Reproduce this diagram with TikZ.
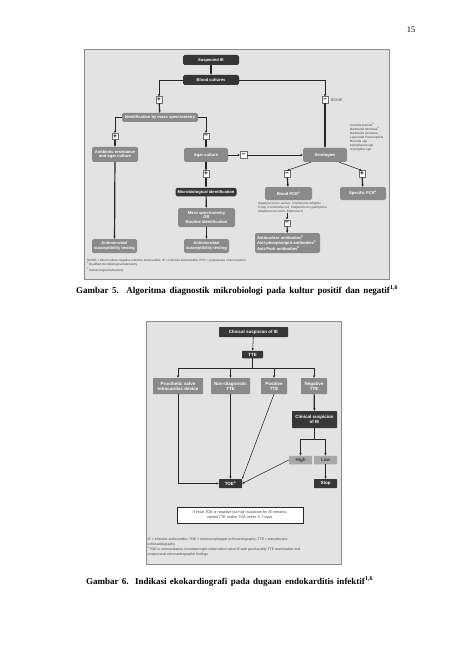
\documentclass[tikz,border=0pt]{standalone}
\usepackage{fontspec}
\setmainfont{Liberation Serif}
\setsansfont{Liberation Sans}
\usetikzlibrary{arrows.meta,calc}
\definecolor{panel}{HTML}{E3E3E3}
\definecolor{panelline}{HTML}{8A8A8A}
\definecolor{boxdark}{HTML}{363636}
\definecolor{boxgray}{HTML}{8A8A8A}
\definecolor{boxlight}{HTML}{A8A8A8}
\definecolor{linec}{HTML}{262626}
\definecolor{signline}{HTML}{6E6E6E}
\definecolor{smalltext}{HTML}{404040}
\newcommand{\bfont}{\sffamily\bfseries\fontsize{4.1}{4.7}\selectfont}
\newcommand{\cfont}{\sffamily\bfseries\fontsize{4.5}{5.2}\selectfont}
\newcommand{\tfont}{\sffamily\fontsize{3.1}{3.9}\selectfont}
\newcommand{\nfont}{\sffamily\fontsize{3.7}{4.7}\selectfont}
\begin{document}
\begin{tikzpicture}[x=1pt,y=-1pt,
  wh/.style 2 args={minimum width=#1pt, minimum height=#2pt},
  box/.style={rounded corners=1.6pt, inner sep=0pt, align=center, font=\bfont},
  dk/.style={box, fill=boxdark, text=white},
  gy/.style={box, fill=boxgray, text=white},
  sbox/.style={inner sep=0pt, align=center, font=\cfont, rounded corners=0.6pt},
  sdk/.style={sbox, fill=boxdark, text=white},
  sgy/.style={sbox, fill=boxgray, text=white},
  slt/.style={sbox, fill=boxlight, text=boxdark},
  sgn/.style={draw=signline, fill=white, line width=0.5pt, minimum size=6.5pt, inner sep=0pt, font=\sffamily\bfseries\fontsize{6.5}{6.5}\selectfont, text=black},
  ar/.style={draw=linec, line width=0.55pt, -{Stealth[length=2.5pt,width=2.2pt]}},
  thk/.style={ar, line width=1.2pt},
  ln/.style={draw=linec, line width=0.55pt},
  small/.style={font=\tfont, text=smalltext, inner sep=0pt, align=left},
  caption/.style={font=\rmfamily\bfseries\fontsize{9}{11}\selectfont, inner sep=0pt}
]
\useasboundingbox (0,0) rectangle (474,671);
\fill[white] (0,0) rectangle (474,671);

\node[font=\rmfamily\fontsize{8.5}{10}\selectfont, inner sep=0pt] (pagenum) at (411,30) {15};

% ---------------- Figure 1 ----------------
\filldraw[fill=panel, draw=panelline, line width=0.7pt] (84,49) rectangle (389,279);

\node[dk, wh={56}{10}] (sus) at (211,60) {Suspected IE};
\node[dk, wh={56}{10}] (bc) at (211,80) {Blood cultures};
\node[sgn] (p1) at (159,100) {+};
\node[sgn] (m1) at (325,100) {−};
\node[small, anchor=west, font=\sffamily\fontsize{3.6}{4}\selectfont] (bcnie) at (331,100) {BCNIE};
\node[gy, wh={76}{9}] (ims) at (160,117.5) {Identification by mass spectrometry};
\node[sgn] (p2) at (115,136.5) {+};
\node[sgn] (m2) at (206,136.5) {−};
\node[gy, wh={46}{15}] (abr) at (115,154.5) {Antibiotic resistance\\and agar culture};
\node[gy, wh={44}{14}] (agar) at (206,155) {Agar culture};
\node[sgn] (m3) at (243.5,155) {−};
\node[gy, wh={44}{14}] (ser) at (325,155) {Serologies};
\node[small, anchor=north west] (serlist) at (350,123.5) {\textit{Coxiella burnetii}\textsuperscript{a}\\\textit{Bartonella henselae}\textsuperscript{a}\\\textit{Bartonella Quintana}\\\textit{Legionella Pneumophila}\\\textit{Brucella} spp\\\textit{Mycoplasma} spp\\\textit{Aspergillus} spp};
\node[sgn] (p3) at (206,174) {+};
\node[dk, wh={61}{8.5}] (mic) at (206,192) {Microbiological identification};
\node[sgn] (m4) at (287,174) {−};
\node[sgn] (p4) at (362,174) {+};
\node[gy, wh={47}{13}] (bpcr) at (288.5,193.5) {Blood PCR\textsuperscript{a}};
\node[gy, wh={46}{13}] (spcr) at (363,193.5) {Specific PCR\textsuperscript{a}};
\node[small, anchor=north west] (bact) at (258,202) {\textit{Staphylococcus aureus, Tropheryma whipplei,}\\Fungi, \textit{Escherichia coli, Streptococcus gallolyticus,}\\\textit{Streptococcus mitis}, Enterococci};
\node[sgn] (m5) at (287,223) {−};
\node[gy, wh={57}{19}] (ms) at (206.5,217.5) {Mass spectrometry\\OR\\Routine identification};
\node[gy, wh={45}{14}] (ast1) at (114.5,246) {Antimicrobial\\susceptibility testing};
\node[gy, wh={45}{14}] (ast2) at (206.5,246) {Antimicrobial\\susceptibility testing};
\node[gy, wh={65}{20}, align=left, text width=61pt] (ab) at (287.5,243) {Antinuclear antibodies\textsuperscript{b}\\Anti-phospholipid antibodies\textsuperscript{b}\\Anti-Pork antibodies\textsuperscript{b}};
\node[small, anchor=north west, text=smalltext] (fn1) at (87,259.5) {BCNIE = blood culture-negative infective endocarditis; IE = infective endocarditis; PCR = polymerase chain reaction.\\\textsuperscript{a}Qualified microbiological laboratory\\\textsuperscript{b}Immunological laboratory};

\draw[thk] (sus) -- (bc);
\draw[ar] (bc.west) -| (p1.north);
\draw[ar] (bc.east) -| (m1.north);
\draw[thk] (p1) -- (ims);
\draw[ar] (ims.west) -| (p2.north);
\draw[ar] (ims.east) -| (m2.north);
\draw[thk] (p2) -- (abr);
\draw[thk] (m2) -- (agar);
\draw[ar] (agar) -- (m3);
\draw[ar] (m3) -- (ser);
\draw[thk] (m1) -- (ser);
\draw[ar] (ser.south west) ++(8,0) coordinate (sera) -- (m4.north);
\draw[ar] (ser.south east) ++(-8,0) coordinate (serb) -- (p4.north);
\draw[thk] (m4) -- (bpcr);
\draw[thk] (p4) -- (spcr);
\draw[thk] (agar) -- (p3);
\draw[thk] (p3) -- (mic);
\draw[thk] (mic) -- (ms);
\draw[thk] (ms) -- (ast2);
\draw[thk] (abr) -- (ast1);
\draw[ar] (bact.south -| m5) -- (m5);
\draw[thk] (m5) -- (ab);

\node[caption, anchor=base] (cap1) at (237,293.5) {\makebox[322pt][s]{Gambar 5. Algoritma diagnostik mikrobiologi pada kultur positif dan negatif\textsuperscript{1,6}}};

% ---------------- Figure 2 ----------------
\filldraw[fill=panel, draw=panelline, line width=0.7pt] (146,321) rectangle (341,564);

\node[sdk, wh={69}{10}] (cs1) at (253.5,332) {Clinical suspicion of IE};
\node[sdk, wh={21}{7.5}] (tte) at (252.5,354.5) {TTE};
\coordinate (bus) at (252.5,368);
\node[sgy, wh={50}{16}] (pv) at (178,386) {Prosthetic valve\\Intracardiac device};
\node[sgy, wh={39}{16}] (nd) at (230.5,386) {Non-diagnostic\\TTE};
\node[sgy, wh={26}{16}] (pos) at (274,386) {Positive\\TTE};
\node[sgy, wh={26}{16}] (neg) at (314,386) {Negative\\TTE};
\node[sdk, wh={45}{17}] (cs2) at (314.5,419.5) {Clinical suspicion\\of IE};
\coordinate (bus2) at (314.5,439);
\node[slt, wh={23}{8.5}] (high) at (300.5,460) {High};
\node[slt, wh={23}{8.5}] (low) at (325.5,460) {Low};
\node[sdk, wh={23}{9}] (stop) at (325.5,483.5) {Stop};
\node[sdk, wh={23}{9}] (toe) at (230.5,483.5) {TOE\textsuperscript{a}};
\node[draw=linec, fill=white, line width=0.45pt, wh={126}{16}, inner sep=0pt, align=center, font=\nfont, text=smalltext] (note) at (240,515) {If initial TOE is negative but high suspicion for IE remains,\\repeat TTE and/or TOE within 5–7 days};
\node[small, anchor=north west, font=\sffamily\fontsize{3.45}{4.9}\selectfont] (fn2) at (147.5,538) {IE = infective endocarditis; TOE = transoesophageal echocardiography; TTE = transthoracic\\echocardiography.\\\textsuperscript{a}TOE is not mandatory in isolated right-sided native valve IE with good quality TTE examination and\\unequivocal echocardiographic findings.};

\draw[ar] (cs1) -- (tte);
\draw[ln] (tte) -- (bus);
\draw[ar] (bus) -| (pv.north);
\draw[ar] (bus) -| (nd.north);
\draw[ar] (bus) -| (pos.north);
\draw[ar] (bus) -| (neg.north);
\draw[ar] (pv.south) |- (toe.west);
\draw[thk] (nd) -- (toe);
\draw[ar] (pos.south) -- (toe.north east);
\draw[thk] (neg) -- (cs2);
\draw[ln] (cs2) -- (bus2);
\draw[ar] (bus2) -| (high.north);
\draw[ar] (bus2) -| (low.north);
\draw[thk] (low) -- (stop);
\draw[ar] (high.west) -- (toe.east);

\node[caption, anchor=base] (cap2) at (229.5,584.5) {\makebox[287pt][s]{Gambar 6. Indikasi ekokardiografi pada dugaan endokarditis infektif\textsuperscript{1,6}}};
\end{tikzpicture}
\end{document}
